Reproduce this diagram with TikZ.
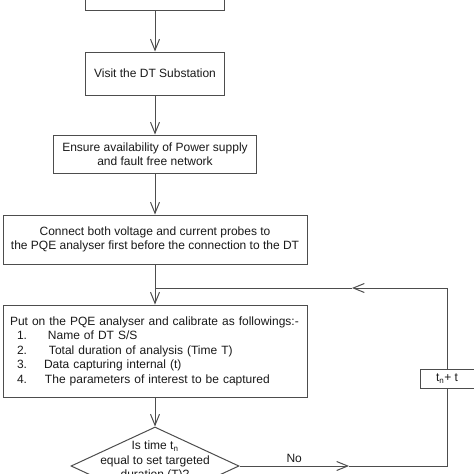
\documentclass[tikz,border=0pt]{standalone}
\usepackage{fontspec}
\setmainfont{Liberation Sans}
\usetikzlibrary{arrows.meta,shapes.geometric}
\definecolor{Line}{HTML}{4D4D4D}
\definecolor{Ink}{HTML}{1A1A1A}

\begin{document}
\begin{tikzpicture}[x=1pt,y=-1pt,
    box/.style={draw=Line,fill=white,line width=1pt,align=center,inner sep=2pt,
      font=\fontsize{12}{14.5}\selectfont,text=Ink},
    arr/.style={-{Straight Barb[length=11pt,width=9pt]},draw=Line,line width=1pt},
    line/.style={draw=Line,line width=1pt}]
    \useasboundingbox (0,0) rectangle (474,474);
    \node[box,minimum width=139pt,minimum height=50pt] (start) at (155,-15) {};
    \node[box,minimum width=139pt,minimum height=43pt] (visit) at (155,73.5) {Visit the DT Substation};
    \node[box,minimum width=203pt,minimum height=38pt] (ensure) at (155,154) {Ensure availability of Power supply\\and fault free network};
    \node[box,minimum width=304pt,minimum height=49pt] (connect) at (155,239.5) {Connect both voltage and current probes to\\the PQE analyser first before the connection to the DT};
    \node[box,minimum width=304pt,minimum height=92pt,text width=290pt,align=left] (setup) at (155,351) {Put on the PQE analyser and calibrate as followings:-\\
      \hspace*{7pt}\makebox[31pt][l]{1.}Name of DT S/S\\
      \hspace*{7pt}\makebox[32pt][l]{2.}Total duration of analysis (Time T)\\
      \hspace*{7pt}\makebox[27pt][l]{3.}Data capturing internal (t)\\
      \hspace*{7pt}\makebox[28pt][l]{4.}The parameters of interest to be captured\\[4pt]};
    \node[box,diamond,minimum width=168pt,minimum height=78pt,inner sep=0pt] (check) at (155,466) {};
    \node[box,draw=none,fill=none] (checktext) at (155,461) {Is time t\textsubscript{n}\\equal to set targeted\\duration (T)?};
    \node[box,minimum width=54pt,minimum height=19pt] (incr) at (447,378.5) {t\textsubscript{n}+ t};
    \coordinate (noarr) at (349,466);
    \coordinate (backarr) at (352,288);
    \coordinate (join) at (155,288);
    \draw[arr] (start) -- (visit);
    \draw[arr] (visit) -- (ensure);
    \draw[arr] (ensure) -- (connect);
    \draw[arr] (connect) -- (setup);
    \draw[arr] (setup) -- (check);
    \draw[arr] (check.east) -- node[above,font=\fontsize{12}{14.5}\selectfont,text=Ink] {No} (noarr);
    \draw[line] (noarr) -| (incr.south);
    \draw[arr] (incr.north) |- (backarr);
    \draw[line] (backarr) -- (join);
\end{tikzpicture}
\end{document}
